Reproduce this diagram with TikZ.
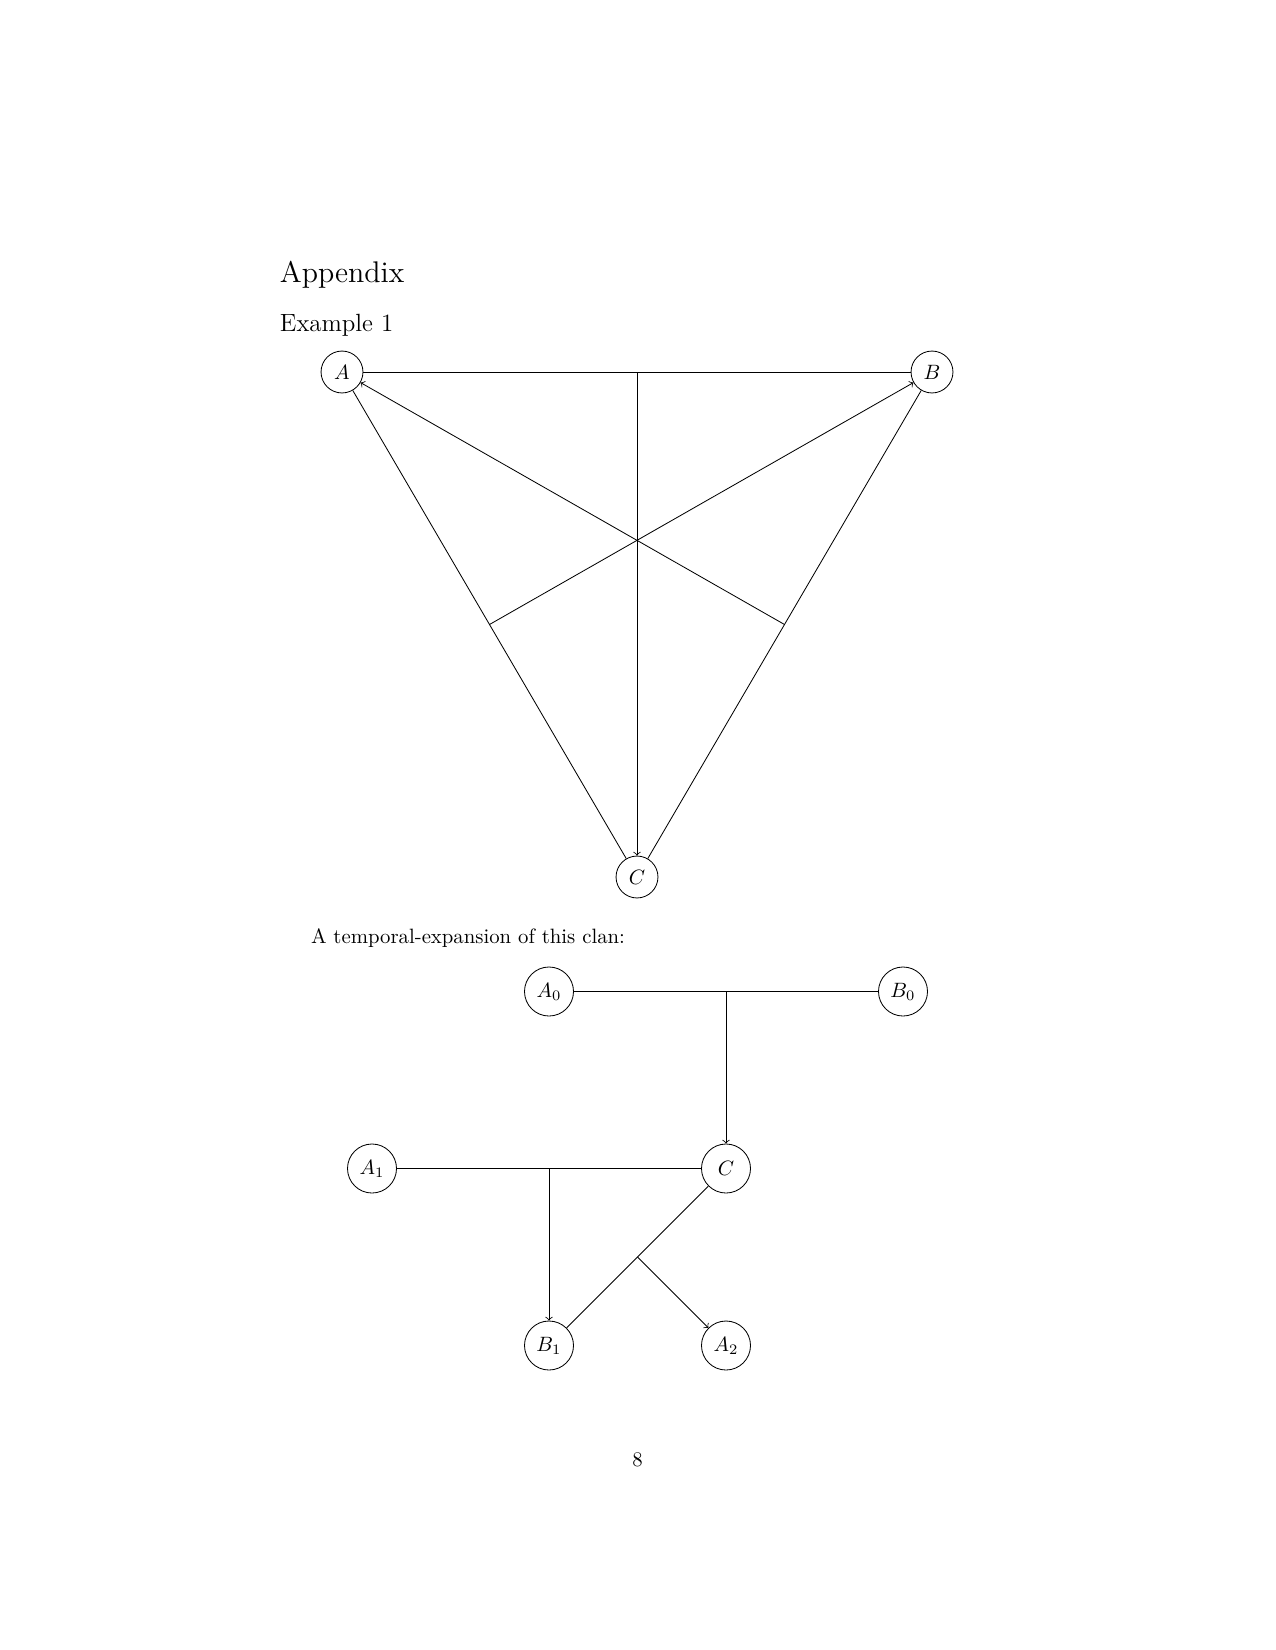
\documentclass[tikz,border=0pt]{standalone}
\usetikzlibrary{calc}
\begin{document}
\begin{tikzpicture}[x=0.16933mm,y=-0.16933mm,
  vtx/.style={draw,circle,minimum size=7.1mm,inner sep=0pt},
  vtxb/.style={draw,circle,minimum size=8.3mm,inner sep=0pt},
  txt/.style={anchor=base west,inner sep=0pt},
  arr/.style={->}]
\useasboundingbox (0,0) rectangle (1275,1650);
% headings
\node[txt,font=\fontsize{14.4}{17}\selectfont] (h1) at (279.5,282) {Appendix};
\node[txt,font=\large] (h2) at (279.5,331) {Example 1};
% top diagram
\node[vtx] (A) at (342,372) {$A$};
\node[vtx] (B) at (932,372) {$B$};
\node[vtx] (C) at (637,877) {$C$};
\coordinate (mAB) at ($(A)!0.5!(B)$);
\coordinate (mAC) at ($(A)!0.5!(C)$);
\coordinate (mBC) at ($(B)!0.5!(C)$);
\draw (A) -- (B);
\draw (A) -- (C);
\draw (B) -- (C);
\draw[arr] (mAB) -- (C);
\draw[arr] (mAC) -- (B);
\draw[arr] (mBC) -- (A);
% text
\node[txt] (t1) at (310.6,943) {A temporal-expansion of this clan:};
% lower diagram
\node[vtxb] (A0) at (549,991.5) {$A_0$};
\node[vtxb] (B0) at (903,991.5) {$B_0$};
\node[vtxb] (A1) at (372,1168.5) {$A_1$};
\node[vtxb] (C1) at (726,1168.5) {$C$};
\node[vtxb] (B1) at (549,1345.5) {$B_1$};
\node[vtxb] (A2) at (726,1345.5) {$A_2$};
\coordinate (m1) at ($(A0)!0.5!(B0)$);
\coordinate (m2) at ($(A1)!0.5!(C1)$);
\coordinate (m3) at ($(C1)!0.5!(B1)$);
\draw (A0) -- (B0);
\draw[arr] (m1) -- (C1);
\draw (A1) -- (C1);
\draw[arr] (m2) -- (B1);
\draw (C1) -- (B1);
\draw[arr] (m3) -- (A2);
% page number
\node[anchor=base,inner sep=0pt] (pg) at (637.5,1466) {8};
\end{tikzpicture}
\end{document}
